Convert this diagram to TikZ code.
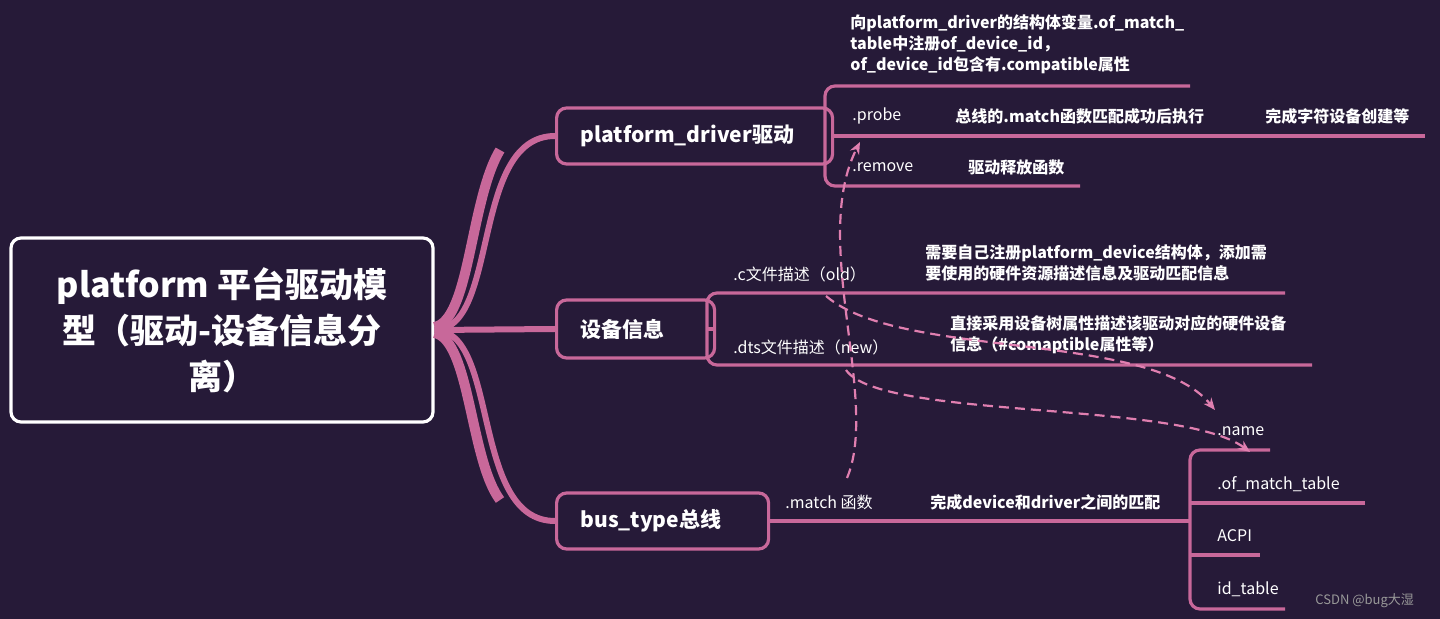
\documentclass[tikz,border=0pt]{standalone}
\usepackage{fontspec}
\setmainfont{Noto Sans CJK SC}
\usetikzlibrary{arrows.meta}
\definecolor{bg}{HTML}{261A38}
\definecolor{pk}{HTML}{C8689A}
\definecolor{dpk}{HTML}{E07FB0}
\tikzset{
  x=0.5pt,y=-0.5pt,
  box/.style={draw=pk,line width=1.6pt,rounded corners=5pt,text=white,font=\fontsize{10.5}{12}\selectfont\bfseries,anchor=west,inner sep=0pt},
  lbl/.style={text=white,font=\fontsize{8}{10.5}\selectfont\bfseries,anchor=west,inner sep=0pt,align=left},
  br/.style={draw=pk,line width=1.6pt,rounded corners=5pt},
  trunk/.style={draw=pk,line width=3pt},
  dasharr/.style={draw=dpk,line width=1.1pt,dash pattern=on 5pt off 3pt,-{Stealth[length=6pt,width=5pt]}}
}
\begin{document}
\begin{tikzpicture}
\fill[bg] (0,0) rectangle (1440,619);
\useasboundingbox (0,0) rectangle (1440,619);
% root
\node[draw=white,line width=1.6pt,rounded corners=5pt,minimum width=211pt,minimum height=92pt,text=white,align=center,
  font=\fontsize{17}{23}\selectfont\bfseries] (root) at (222,330) {platform 平台驱动模\\型（驱动-设备信息分\\离）};
\node[box,minimum width=126pt,minimum height=28pt,text width=114pt,inner xsep=12pt] (pd) at (555,136) {platform\_driver驱动};
\node[box,minimum width=67pt,minimum height=29pt,text width=55pt,inner xsep=12pt] (dev) at (555,329) {设备信息};
\node[box,minimum width=94pt,minimum height=28pt,text width=82pt,inner xsep=12pt] (bus) at (555,521) {bus\_type总线};
% trunks
\draw[trunk] (root.east) .. controls (500,330) and (470,136) .. (pd.west);
\draw[trunk] (root.east) -- (dev.west);
\draw[trunk] (root.east) .. controls (500,330) and (470,521) .. (bus.west);
\draw[draw=pk,line width=5pt] (root.east) ++(0,-3) .. controls (470,320) and (470,200) .. (500,150);
\draw[draw=pk,line width=5pt] (root.east) ++(0,3) .. controls (470,340) and (470,460) .. (500,500);
% platform_driver subtree
\draw[br] (1190,86) -- (825,86) -- (825,186) -- (1080,186);
\draw[br] (pd.east) -- (1425,136);
\node[lbl] (t0) at (850,44) {向platform\_driver的结构体变量.of\_match\_\\table中注册of\_device\_id，\\of\_device\_id包含有.compatible属性};
\node[lbl,font=\fontsize{8}{10}\selectfont] (probe) at (852,116) {.probe};
\node[lbl] (probe2) at (955,116) {总线的.match函数匹配成功后执行};
\node[lbl] (probe3) at (1265,116) {完成字符设备创建等};
\node[lbl,font=\fontsize{8}{10}\selectfont] (remove) at (852,167) {.remove};
\node[lbl] (remove2) at (968,167) {驱动释放函数};
% device subtree
\draw[br] (dev.east) -- (707,329);
\draw[br] (1285,293) -- (707,293) -- (707,365) -- (1312,365);
\node[lbl,font=\fontsize{8}{10}\selectfont] (cfile) at (733,274) {.c文件描述（old）};
\node[lbl] (cfile2) at (925,263) {需要自己注册platform\_device结构体，添加需\\要使用的硬件资源描述信息及驱动匹配信息};
\node[lbl,font=\fontsize{8}{10}\selectfont] (dts) at (733,347) {.dts文件描述（new）};
\node[lbl] (dts2) at (950,335) {直接采用设备树属性描述该驱动对应的硬件设备\\信息（\#comaptible属性等）};
% bus subtree
\draw[br] (bus.east) -- (1190,521);
\draw[br] (1270,450) -- (1190,450) -- (1190,609) -- (1285,609);
\draw[br] (1190,503) -- (1365,503);
\draw[br] (1190,555) -- (1260,555);
\node[lbl,font=\fontsize{8}{10}\selectfont] (match) at (785,502) {.match 函数};
\node[lbl] (match2) at (930,502) {完成device和driver之间的匹配};
\node[lbl,font=\fontsize{8}{10}\selectfont] (name) at (1217,431) {.name};
\node[lbl,font=\fontsize{8}{10}\selectfont] (omt) at (1217,484) {.of\_match\_table};
\node[lbl,font=\fontsize{8}{10}\selectfont] (acpi) at (1217,536) {ACPI};
\node[lbl,font=\fontsize{8}{10}\selectfont] (idt) at (1217,589) {id\_table};
% dashed arrows
\coordinate (s1) at (847,478);
\coordinate (e1) at (860,142);
\draw[dasharr] (s1) .. controls (880,400) and (810,240) .. (e1);
\coordinate (s2) at (826,296);
\coordinate (e2) at (1215,410);
\draw[dasharr] (s2) .. controls (900,360) and (1150,330) .. (e2);
\coordinate (s3) at (846,370);
\coordinate (e3) at (1250,452);
\draw[dasharr] (s3) .. controls (880,420) and (1180,400) .. (e3);
\node[anchor=west,inner sep=0pt,text=gray!80,font=\fontsize{6.5}{8}\selectfont] (wm) at (1315,601) {CSDN @bug大湿};
\end{tikzpicture}
\end{document}
